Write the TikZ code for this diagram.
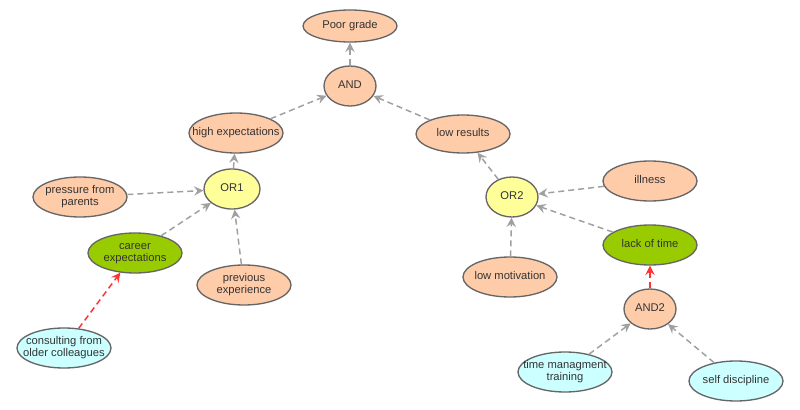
\documentclass[tikz,border=0pt]{standalone}
\usepackage{fontspec}
\setmainfont{Liberation Sans}
\usetikzlibrary{arrows.meta,shapes.geometric}
\definecolor{peach}{RGB}{255,204,170}
\definecolor{lyellow}{RGB}{255,255,153}
\definecolor{lgreen}{RGB}{153,204,0}
\definecolor{lcyan}{RGB}{204,255,255}
\definecolor{bord}{RGB}{102,102,102}
\definecolor{egray}{RGB}{160,160,160}
\definecolor{ered}{RGB}{255,51,51}
\newcommand{\zt}[1]{\makebox[0pt]{\begin{tabular}{@{}c@{}}#1\end{tabular}}}
\tikzset{
  ell/.style={ellipse, draw=bord, line width=1pt, inner sep=0pt,
    font=\fontsize{8.4pt}{9.6pt}\selectfont, text=black!80},
  big/.style={ell, minimum width=94*0.75pt, minimum height=40*0.75pt},
  small/.style={ell, minimum width=52*0.75pt, minimum height=40*0.75pt},
  pe/.style={fill=peach}, ye/.style={fill=lyellow}, gr/.style={fill=lgreen}, cy/.style={fill=lcyan},
  edge/.style={draw=egray, line width=1.1pt, dash pattern=on 4.5pt off 3pt,
    -{Stealth[length=7pt,width=7pt,inset=2.5pt]}},
  redge/.style={edge, draw=ered}
}
\begin{document}
\begin{tikzpicture}[x=0.75pt,y=-0.75pt]
\fill[white] (0,0) rectangle (800,410);
\useasboundingbox (0,0) rectangle (800,410);
\node[big,pe,minimum height=32*0.75pt] (poor) at (350,26) {\zt{Poor grade}};
\node[small,pe] (and) at (350,86) {\zt{AND}};
\node[big,pe] (high) at (236,133) {\zt{high expectations}};
\node[big,pe,minimum height=38*0.75pt] (low) at (463,134) {\zt{low results}};
\node[small,ye,minimum width=56*0.75pt] (or1) at (232,189) {\zt{OR1}};
\node[big,pe] (press) at (80,197) {\zt{pressure from\\parents}};
\node[big,gr] (career) at (135,253) {\zt{career\\expectations}};
\node[big,pe] (prev) at (244,285) {\zt{previous\\experience}};
\node[big,cy] (cons) at (64,348) {\zt{consulting from\\older colleagues}};
\node[small,ye] (or2) at (512,197) {\zt{OR2}};
\node[big,pe] (ill) at (650,181) {\zt{illness}};
\node[big,gr] (lack) at (650,245) {\zt{lack of time}};
\node[big,pe] (lowm) at (510,277) {\zt{low motivation}};
\node[small,pe] (and2) at (650,309) {\zt{AND2}};
\node[big,cy] (tmt) at (565,372) {\zt{time managment\\training}};
\node[big,cy] (self) at (736,381) {\zt{self discipline}};

\draw[edge] (and) -- (poor);
\draw[edge] (high) -- (and);
\draw[edge] (low) -- (and);
\draw[edge] (or1) -- (high);
\draw[edge] (press) -- (or1);
\draw[edge] (career) -- (or1);
\draw[edge] (prev) -- (or1);
\draw[redge] (cons) -- (career);
\draw[edge] (or2) -- (low);
\draw[edge] (ill) -- (or2);
\draw[edge] (lack) -- (or2);
\draw[edge] (lowm) -- (or2);
\draw[redge] (and2) -- (lack);
\draw[edge] (tmt) -- (and2);
\draw[edge] (self) -- (and2);
\end{tikzpicture}
\end{document}
